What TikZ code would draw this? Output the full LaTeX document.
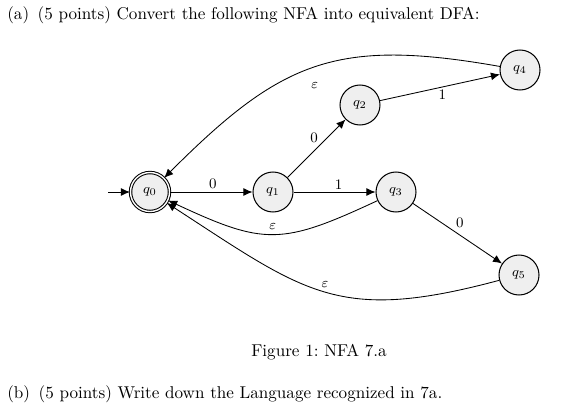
\documentclass[tikz,border=0pt]{standalone}
\usetikzlibrary{arrows.meta}
\begin{document}
\begin{tikzpicture}[x=0.585pt,y=0.585pt,
  state/.style={circle,draw,line width=0.6pt,fill=stfill,minimum size=23.4pt,inner sep=0pt,font=\fontsize{8.5}{10}\selectfont},
  accst/.style={state,double,double distance=0.8pt,minimum size=22.8pt},
  tr/.style={line width=0.5pt,-{Latex[length=5.3pt,width=4.6pt]}},
  lab/.style={font=\fontsize{8.5}{10}\selectfont,inner sep=1.5pt},
  txt/.style={font=\fontsize{10}{12}\selectfont,inner sep=0pt}]
\definecolor{stfill}{HTML}{EFEFEF}
\useasboundingbox (0,0) rectangle (579,-411);
\node[txt,anchor=base west] (ha) at (7,-19) {(a)\hspace{5pt}(5 points) Convert the following NFA into equivalent DFA:};
\node[txt,anchor=base] (cap) at (319,-356) {Figure 1:\ NFA 7.a};
\node[txt,anchor=base west] (hb) at (7,-398) {(b)\hspace{5pt}(5 points) Write down the Language recognized in 7a.};

\node[accst] (q0) at (150,-192) {$q_0$};
\node[state] (q1) at (273,-192) {$q_1$};
\node[state] (q2) at (360,-105) {$q_2$};
\node[state] (q3) at (396,-192) {$q_3$};
\node[state] (q4) at (520,-70) {$q_4$};
\node[state] (q5) at (519,-275) {$q_5$};
\coordinate (st) at (108,-192);

\draw[tr] (st) -- (q0);
\draw[tr] (q0) -- node[lab,above,pos=0.52] {0} (q1);
\draw[tr] (q1) -- node[lab,above left,pos=0.56,inner sep=1pt] {0} (q2);
\draw[tr] (q1) -- node[lab,above,pos=0.55] {1} (q3);
\draw[tr] (q2) -- node[lab,below,pos=0.52] {1} (q4);
\draw[tr] (q3) -- node[lab,above right,pos=0.45] {0} (q5);
\draw[tr] (q4) to[out=170,in=45,looseness=1.2] node[lab,below=7.5pt,pos=0.5] {$\varepsilon$} (q0);
\draw[tr] (q3) to[out=205,in=-25,looseness=1.3] node[lab,above=1pt,pos=0.5] {$\varepsilon$} (q0);
\draw[tr] (q5) to[out=195,in=-33,looseness=1.25] node[lab,above=0.5pt,pos=0.5] {$\varepsilon$} (q0);
\end{tikzpicture}
\end{document}
